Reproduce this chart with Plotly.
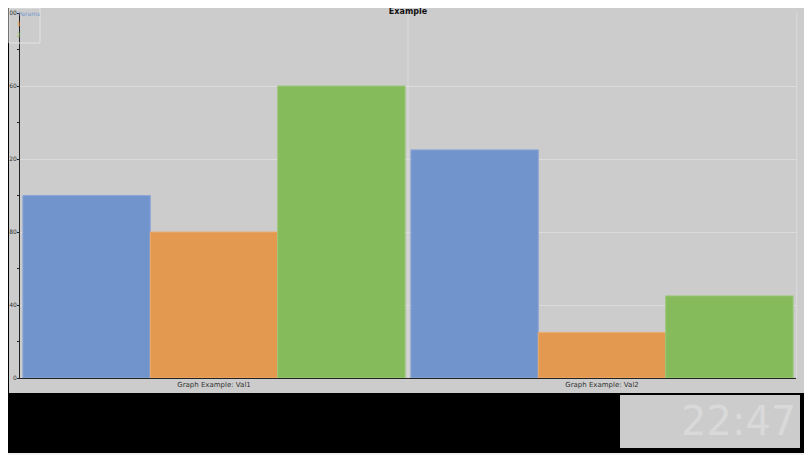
import plotly.graph_objects as go

categories = ["Graph Example: Val1", "Graph Example: Val2"]
series_names = ["Params", "1", "2"]
series_values = [
    [100, 125],
    [80, 25],
    [160, 45],
]
series_colors = ["#7294cc", "#e3994f", "#86bb5c"]
series_edges = ["#8aa6d6", "#eaad70", "#9cc878"]
y_tick_values = [0, 40, 80, 120, 160, 200]
y_tick_labels = ["0", "40", "80", "20", "60", "00"]

# the page body has an 8px margin, so work in reference pixels and shift
OFF = 8
W, H = 812 - OFF, 455 - OFF
L, T = 20 - OFF, 13 - OFF
R = W - (796 - OFF)
B = H - (378 - OFF)
PW, PH = W - L - R, H - T - B


def px_x(x):
    return (x - OFF - L) / PW


def px_y(y):
    return (H - B - (y - OFF)) / PH


fig = go.Figure()
for name, vals, color, edge in zip(series_names, series_values, series_colors, series_edges):
    fig.add_trace(go.Bar(
        x=categories, y=vals, name=name,
        marker=dict(color=color, line=dict(color=edge, width=1)),
        showlegend=False,
    ))

shapes = [
    # thin left frame line
    dict(type="line", xref="paper", yref="paper", x0=px_x(8.5), x1=px_x(8.5), y0=px_y(453), y1=px_y(0),
         line=dict(color="#000000", width=1)),
    # right light strip
    dict(type="rect", xref="paper", yref="paper", x0=px_x(805), x1=px_x(812), y0=px_y(455), y1=px_y(0),
         fillcolor="#f2f2f2", line_width=0, layer="below"),
    # black bottom panel with clock box
    dict(type="rect", xref="paper", yref="paper", x0=px_x(9), x1=px_x(805), y0=px_y(453), y1=px_y(393),
         fillcolor="#000000", line_width=0),
    dict(type="rect", xref="paper", yref="paper", x0=px_x(620), x1=px_x(800), y0=px_y(448), y1=px_y(395),
         fillcolor="#cccccc", line_width=0),
    dict(type="rect", xref="paper", yref="paper", x0=px_x(8), x1=px_x(812), y0=px_y(455), y1=px_y(453),
         fillcolor="#f2f2f2", line_width=0),
    # grid lines
    dict(type="line", xref="paper", yref="paper", x0=0.5, x1=0.5, y0=0, y1=1,
         line=dict(color="#dcdcdc", width=1), layer="below"),
    dict(type="line", xref="paper", yref="paper", x0=1.001, x1=1.001, y0=0, y1=1,
         line=dict(color="#dcdcdc", width=1), layer="below"),
    # legend box
    dict(type="rect", xref="paper", yref="paper", x0=px_x(9), x1=px_x(40), y0=px_y(43), y1=px_y(8),
         fillcolor="rgba(0,0,0,0)", line=dict(color="#e4e4e4", width=1)),
]

annotations = [
    dict(text="22:47", xref="paper", yref="paper", x=px_x(798), y=px_y(421), xanchor="right", yanchor="middle",
         showarrow=False, font=dict(size=40, color="#d9d9d9", family="DejaVu Sans")),
]
legend_rows = [(16, 13), (15, 24), (15, 35)]
for name, color, (lx, ly) in zip(series_names, series_colors, legend_rows):
    annotations.append(dict(
        text=name, xref="paper", yref="paper", x=px_x(lx), y=px_y(ly), xanchor="left", yanchor="middle",
        showarrow=False, font=dict(size=6, color=color, family="DejaVu Sans"),
    ))

fig.update_layout(
    width=W, height=H,
    margin=dict(l=L, r=R, t=T, b=B, pad=0, autoexpand=False),
    paper_bgcolor="#cccccc",
    plot_bgcolor="#cccccc",
    barmode="group",
    bargap=0.015,
    bargroupgap=0,
    font=dict(family="DejaVu Sans", size=7, color="#333333"),
    title=dict(text="<b>Example</b>", x=px_x(408), xref="paper", y=1, yref="container",
               xanchor="center", yanchor="top", pad=dict(t=0, b=0), font=dict(size=8, color="#111111")),
    shapes=shapes,
    annotations=annotations,
    xaxis=dict(
        showgrid=False, showline=True, linecolor="#222222", linewidth=1, automargin=False,
        ticks="", tickfont=dict(size=7, color="#333333"), fixedrange=True,
    ),
    yaxis=dict(
        range=[0, 200], tickmode="array", tickvals=y_tick_values, ticktext=y_tick_labels,
        showline=True, linecolor="#222222", linewidth=1, automargin=False,
        ticks="outside", ticklen=2, tickcolor="#222222", ticklabelstandoff=-1,
        minor=dict(dtick=20, ticks="outside", ticklen=2, tickcolor="#222222", showgrid=False),
        showgrid=True, gridcolor="#dcdcdc", gridwidth=1, zeroline=False,
        tickfont=dict(size=6, color="#333333"),
    ),
)

fig.write_html("out.html")
